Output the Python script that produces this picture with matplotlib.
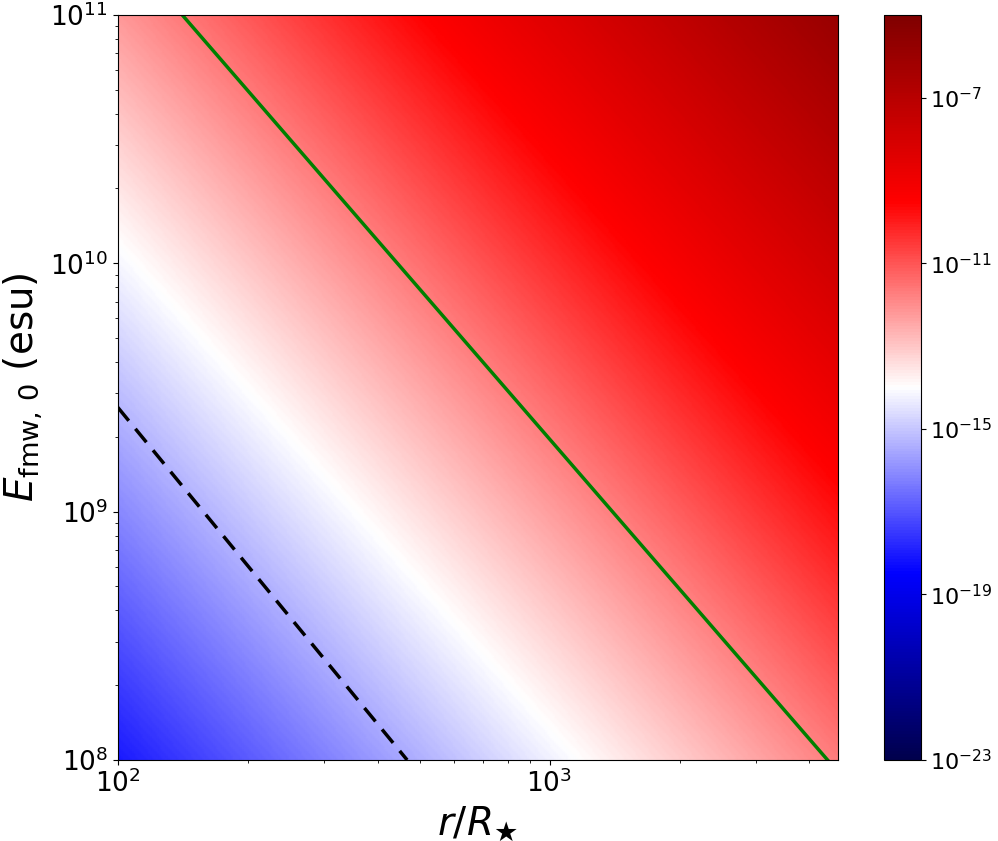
import numpy as np
import matplotlib
matplotlib.use("Agg")
import matplotlib.pyplot as plt
from matplotlib.colors import LogNorm

# axis ranges
r_min, r_max = 1e2, 4.65e3
E_min, E_max = 1e8, 1e11

# background field: power law anchored where the map is white (1e-14)
field_ref = 1e-14
r_ref, E_ref = 1e2, 1.2e10
exp_E, exp_r = 1.95, 3.8

# colour scale limits and colorbar ticks
vmin, vmax = 1e-23, 1e-5
cbar_ticks = [1e-23, 1e-19, 1e-15, 1e-11, 1e-7]

# green solid line (end points)
green_r = [141, 4405]
green_E = [1e11, 1e8]

# black dashed line (end points)
dash_r = [100, 468]
dash_E = [2.63e9, 1e8]

r = np.logspace(np.log10(r_min), np.log10(r_max), 400)
E = np.logspace(np.log10(E_min), np.log10(E_max), 400)
R, EE = np.meshgrid(r, E)
Z = field_ref * (EE / E_ref) ** exp_E * (R / r_ref) ** exp_r

fig = plt.figure(figsize=(9.98, 8.41), dpi=100)
ax = fig.add_axes([0.118, 0.0963, 0.7214, 0.886])
cax = fig.add_axes([0.886, 0.0963, 0.037, 0.886])

pc = ax.pcolormesh(R, EE, Z, cmap='seismic', norm=LogNorm(vmin=vmin, vmax=vmax),
                   shading='gouraud', rasterized=True)
ax.plot(green_r, green_E, color='green', lw=2.5)
ax.plot(dash_r, dash_E, color='black', lw=2.5, ls='--', dashes=(5, 3))

ax.set_xscale('log')
ax.set_yscale('log')
ax.set_xlim(r_min, r_max)
ax.set_ylim(E_min, E_max)
ax.tick_params(labelsize=19)
ax.set_xlabel(r'$r/R_\bigstar$', fontsize=28)
ax.set_ylabel(r'$E_{\mathrm{fmw,\,0}}$ (esu)', fontsize=28)

cb = fig.colorbar(pc, cax=cax)
cb.set_ticks(cbar_ticks)
cb.ax.minorticks_off()
cb.ax.tick_params(labelsize=16, pad=3)

fig.savefig('out.png', dpi=100)
